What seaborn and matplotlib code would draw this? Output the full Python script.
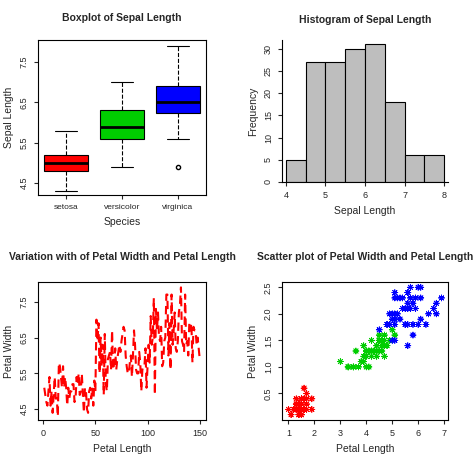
import numpy as np
import pandas as pd
import matplotlib
matplotlib.use("Agg")
import matplotlib.pyplot as plt
import seaborn as sns

sepal_length = [
    5.1, 4.9, 4.7, 4.6, 5.0, 5.4, 4.6, 5.0, 4.4, 4.9, 5.4, 4.8, 4.8, 4.3, 5.8, 5.7, 5.4, 5.1, 5.7, 5.1,
    5.4, 5.1, 4.6, 5.1, 4.8, 5.0, 5.0, 5.2, 5.2, 4.7, 4.8, 5.4, 5.2, 5.5, 4.9, 5.0, 5.5, 4.9, 4.4, 5.1,
    5.0, 4.5, 4.4, 5.0, 5.1, 4.8, 5.1, 4.6, 5.3, 5.0,
    7.0, 6.4, 6.9, 5.5, 6.5, 5.7, 6.3, 4.9, 6.6, 5.2, 5.0, 5.9, 6.0, 6.1, 5.6, 6.7, 5.6, 5.8, 6.2, 5.6,
    5.9, 6.1, 6.3, 6.1, 6.4, 6.6, 6.8, 6.7, 6.0, 5.7, 5.5, 5.5, 5.8, 6.0, 5.4, 6.0, 6.7, 6.3, 5.6, 5.5,
    5.5, 6.1, 5.8, 5.0, 5.6, 5.7, 5.7, 6.2, 5.1, 5.7,
    6.3, 5.8, 7.1, 6.3, 6.5, 7.6, 4.9, 7.3, 6.7, 7.2, 6.5, 6.4, 6.8, 5.7, 5.8, 6.4, 6.5, 7.7, 7.7, 6.0,
    6.9, 5.6, 7.7, 6.3, 6.7, 7.2, 6.2, 6.1, 6.4, 7.2, 7.4, 7.9, 6.4, 6.3, 6.1, 7.7, 6.3, 6.4, 6.0, 6.9,
    6.7, 6.9, 5.8, 6.8, 6.7, 6.7, 6.3, 6.5, 6.2, 5.9,
]
petal_length = [
    1.4, 1.4, 1.3, 1.5, 1.4, 1.7, 1.4, 1.5, 1.4, 1.5, 1.5, 1.6, 1.4, 1.1, 1.2, 1.5, 1.3, 1.4, 1.7, 1.5,
    1.7, 1.5, 1.0, 1.7, 1.9, 1.6, 1.6, 1.5, 1.4, 1.6, 1.6, 1.5, 1.5, 1.4, 1.5, 1.2, 1.3, 1.4, 1.3, 1.5,
    1.3, 1.3, 1.3, 1.6, 1.9, 1.4, 1.6, 1.4, 1.5, 1.4,
    4.7, 4.5, 4.9, 4.0, 4.6, 4.5, 4.7, 3.3, 4.6, 3.9, 3.5, 4.2, 4.0, 4.7, 3.6, 4.4, 4.5, 4.1, 4.5, 3.9,
    4.8, 4.0, 4.9, 4.7, 4.3, 4.4, 4.8, 5.0, 4.5, 3.5, 3.8, 3.7, 3.9, 5.1, 4.5, 4.5, 4.7, 4.4, 4.1, 4.0,
    4.4, 4.6, 4.0, 3.3, 4.2, 4.2, 4.2, 4.3, 3.0, 4.1,
    6.0, 5.1, 5.9, 5.6, 5.8, 6.6, 4.5, 6.3, 5.8, 6.1, 5.1, 5.3, 5.5, 5.0, 5.1, 5.3, 5.5, 6.7, 6.9, 5.0,
    5.7, 4.9, 6.7, 4.9, 5.7, 6.0, 4.8, 4.9, 5.6, 5.8, 6.1, 6.4, 5.6, 5.1, 5.6, 6.1, 5.6, 5.5, 4.8, 5.4,
    5.6, 5.1, 5.1, 5.9, 5.7, 5.2, 5.0, 5.2, 5.4, 5.1,
]
petal_width = [
    0.2, 0.2, 0.2, 0.2, 0.2, 0.4, 0.3, 0.2, 0.2, 0.1, 0.2, 0.2, 0.1, 0.1, 0.2, 0.4, 0.4, 0.3, 0.3, 0.3,
    0.2, 0.4, 0.2, 0.5, 0.2, 0.2, 0.4, 0.2, 0.2, 0.2, 0.2, 0.4, 0.1, 0.2, 0.2, 0.2, 0.2, 0.1, 0.2, 0.2,
    0.3, 0.3, 0.2, 0.6, 0.4, 0.3, 0.2, 0.2, 0.2, 0.2,
    1.4, 1.5, 1.5, 1.3, 1.5, 1.3, 1.6, 1.0, 1.3, 1.4, 1.0, 1.5, 1.0, 1.4, 1.3, 1.4, 1.5, 1.0, 1.5, 1.1,
    1.8, 1.3, 1.5, 1.2, 1.3, 1.4, 1.4, 1.7, 1.5, 1.0, 1.1, 1.0, 1.2, 1.6, 1.5, 1.6, 1.5, 1.3, 1.3, 1.3,
    1.2, 1.4, 1.2, 1.0, 1.3, 1.2, 1.3, 1.3, 1.1, 1.3,
    2.5, 1.9, 2.1, 1.8, 2.2, 2.1, 1.7, 1.8, 1.8, 2.5, 2.0, 1.9, 2.1, 2.0, 2.4, 2.3, 1.8, 2.2, 2.3, 1.5,
    2.3, 2.0, 2.0, 1.8, 2.1, 1.8, 1.8, 1.8, 2.1, 1.6, 1.9, 2.0, 2.2, 1.5, 1.4, 2.3, 2.4, 1.8, 1.8, 2.1,
    2.4, 2.3, 1.9, 2.3, 2.5, 2.3, 1.9, 2.0, 2.3, 1.8,
]
species_names = ["setosa", "versicolor", "virginica"]
species_colors = ["#FF0000", "#00CD00", "#0000FF"]

df = pd.DataFrame({
    "Sepal.Length": sepal_length,
    "Petal.Length": petal_length,
    "Petal.Width": petal_width,
    "Species": np.repeat(species_names, 50),
    "Index": np.arange(1, 151),
})

sns.set_style("ticks")
plt.rcParams["font.family"] = ["Liberation Sans", "DejaVu Sans"]
plt.rcParams["font.size"] = 7

fig = plt.figure(figsize=(4.74, 4.74), dpi=100)
W, H = 474, 474


def box(x0, y0, x1, y1):
    return fig.add_axes([x0 / W, 1 - y1 / H, (x1 - x0) / W, (y1 - y0) / H])


def style(ax, title, xlabel, ylabel, pad=14):
    ax.set_title(title, fontsize=7.5, fontweight="bold", pad=pad)
    ax.set_xlabel(xlabel, fontsize=7.5)
    ax.set_ylabel(ylabel, fontsize=7.5)
    ax.tick_params(labelsize=6.5, length=3)
    for lab in ax.get_yticklabels():
        lab.set_rotation(90)
        lab.set_va("center")
    for s in ax.spines.values():
        s.set_visible(True)
        s.set_color("black")
        s.set_linewidth(0.8)


# boxplot
ax1 = box(38, 40, 206, 195)
sns.boxplot(data=df, x="Species", y="Sepal.Length", hue="Species", palette=species_colors,
            width=0.8, linecolor="black", linewidth=0.8, saturation=1, ax=ax1,
            whiskerprops={"linestyle": "--"},
            medianprops={"linewidth": 2},
            flierprops={"marker": "o", "markersize": 3, "markerfacecolor": "none"})
ax1.set_yticks([4.5, 5.5, 6.5, 7.5])
ax1.set_ylim(4.2, 8.05)
style(ax1, "Boxplot of Sepal Length", "Species", "Sepal Length")
ax1.tick_params(axis="x", labelsize=6)

# histogram
ax2 = box(282, 40, 448, 182)
sns.histplot(x=df["Sepal.Length"], bins=np.arange(4, 8.5, 0.5) + 1e-9, color="#BEBEBE",
             edgecolor="black", linewidth=0.8, alpha=1, ax=ax2)
ax2.set_xlim(3.9, 8.1)
ax2.set_ylim(0, 32)
ax2.set_yticks([0, 5, 10, 15, 20, 25, 30])
style(ax2, "Histogram of Sepal Length", "Sepal Length", "Frequency", pad=12)
ax2.spines["top"].set_visible(False)
ax2.spines["right"].set_visible(False)

# line plot
ax3 = box(38, 282, 206, 420)
sns.lineplot(data=df, x="Index", y="Sepal.Length", color="#FF0000", linewidth=1.5,
             dashes=False, ax=ax3)
ax3.lines[0].set_dashes([4, 2.5])
ax3.set_xticks([0, 50, 100, 150])
ax3.set_yticks([4.5, 5.5, 6.5, 7.5])
ax3.set_xlim(-5, 156)
ax3.set_ylim(4.2, 8.05)
style(ax3, "Variation with of Petal Width and Petal Length", "Petal Length", "Petal Width", pad=16)

# scatter
ax4 = box(282, 282, 448, 420)
sns.scatterplot(data=df, x="Petal.Length", y="Petal.Width", hue="Species",
                palette=species_colors, marker=(8, 2, 0), s=18, linewidth=0.6,
                legend=False, ax=ax4)
ax4.set_xticks(range(1, 8))
ax4.set_yticks([0.5, 1.0, 1.5, 2.0, 2.5])
ax4.set_xlim(0.75, 7.15)
ax4.set_ylim(0.0, 2.6)
style(ax4, "Scatter plot of Petal Width and Petal Length", "Petal Length", "Petal Width", pad=16)

fig.savefig("out.png", dpi=100)
